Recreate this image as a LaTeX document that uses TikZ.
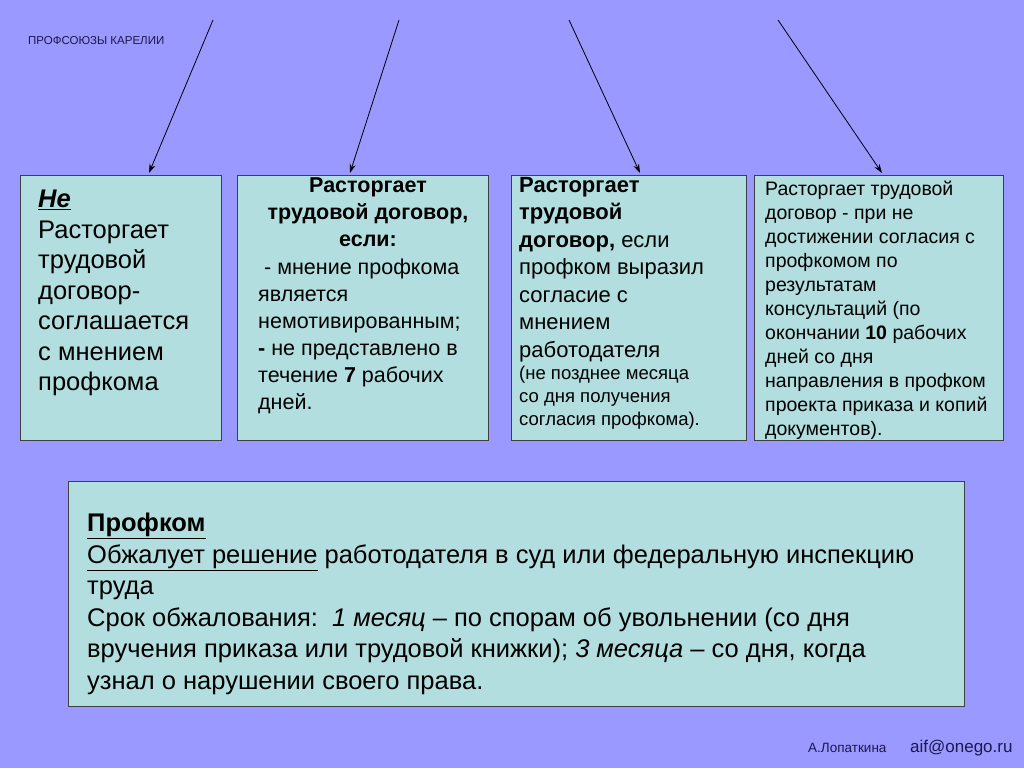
\documentclass[tikz,border=0pt]{standalone}
\usepackage{fontspec}
\setmainfont{Liberation Sans}
\usetikzlibrary{arrows.meta}
\definecolor{bg}{HTML}{9999FF}
\definecolor{boxc}{HTML}{B3DEDF}
\definecolor{ink}{HTML}{1A1A4D}
\begin{document}
\begin{tikzpicture}[x=1pt,y=-1pt,
  card/.style={draw=black!75,line width=0.8pt,fill=boxc},
  txt/.style={anchor=north west,inner sep=0pt,align=left},
  arr/.style={-{Stealth[length=9pt,width=6pt]},line width=0.8pt,black}]
\fill[bg] (0,0) rectangle (1024,768);
\useasboundingbox (0,0) rectangle (1024,768);
\node[txt,font=\fontsize{11.5}{12}\selectfont,text=ink] (hdr) at (28,36) {ПРОФСОЮЗЫ КАРЕЛИИ};
\draw[card] (20,175) rectangle (221,440);
\draw[card] (237,175) rectangle (488,440);
\draw[card] (511,175) rectangle (746,440);
\draw[card] (754,175) rectangle (1003,440);
\draw[card] (68,481) rectangle (964,706);
\coordinate (t1) at (213,20); \coordinate (h1) at (149,173);
\coordinate (t2) at (399,20); \coordinate (h2) at (350,173);
\coordinate (t3) at (569,20); \coordinate (h3) at (640,173);
\coordinate (t4) at (778,20); \coordinate (h4) at (882,173);
\foreach \i in {1,2,3,4} \draw[arr] (t\i) -- (h\i);
\node[txt,font=\fontsize{25.5}{30.5}\selectfont] (b1) at (38,190) {\textbf{\textit{\underline{Не}}}\\Расторгает\\трудовой\\договор-\\соглашается\\с мнением\\профкома};
\node[anchor=north,inner sep=0pt,align=center,font=\fontsize{21.5}{27}\selectfont] (b2a) at (368,178) {\textbf{Расторгает}\\\textbf{трудовой договор,}\\\textbf{если:}};
\node[txt,font=\fontsize{21.5}{27}\selectfont] (b2b) at (258,259) {\ - мнение профкома\\является\\немотивированным;\\\textbf{-} не представлено в\\течение \textbf{7} рабочих\\дней.};
\node[txt,font=\fontsize{22}{27.5}\selectfont] (b3a) at (519,177) {\textbf{Расторгает}\\\textbf{трудовой}\\\textbf{договор,} если\\профком выразил\\согласие с\\мнением\\работодателя};
\node[txt,font=\fontsize{18.5}{23}\selectfont] (b3b) at (519,366) {(не позднее месяца\\со дня получения\\согласия профкома).};
\node[txt,font=\fontsize{19.5}{24}\selectfont] (b4) at (765,181) {Расторгает трудовой\\договор - при не\\достижении согласия с\\профкомом по\\результатам\\консультаций (по\\окончании \textbf{10} рабочих\\дней со дня\\направления в профком\\проекта приказа и копий\\документов).};
\node[txt,font=\fontsize{25.5}{31.5}\selectfont] (b5) at (87,513) {\textbf{\underline{Профком}}\\\underline{Обжалует решение} работодателя в суд или федеральную инспекцию\\труда\\Срок обжалования:\ \ \textit{1 месяц} – по спорам об увольнении (со дня\\вручения приказа или трудовой книжки); \textit{3 месяца} – со дня, когда\\узнал о нарушении своего права.};
\node[anchor=base west,inner sep=0pt,font=\fontsize{13.5}{14}\selectfont,text=ink] (f1) at (808,752) {А.Лопаткина};
\node[anchor=base west,inner sep=0pt,font=\fontsize{17}{18}\selectfont,text=ink] (f2) at (910,752) {aif@onego.ru};
\end{tikzpicture}
\end{document}
